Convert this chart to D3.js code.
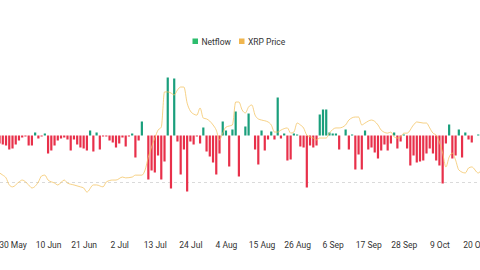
<!DOCTYPE html>
<html><head><meta charset="utf-8">
<script src="https://cdn.jsdelivr.net/npm/d3@7"></script>
<style>
html,body{margin:0;padding:0;background:#fff;}
svg{display:block;font-family:Roboto,"Noto Sans",sans-serif;}
</style></head><body>
<svg id="chart" width="480" height="270"></svg>
<script>
// ---- data ----
const startDate = "2023-05-26"; // first daily netflow bar
const netflow = [
 -8,-9,-10,-14,-13,-9,-5,-2,-1,-10,
 -10,3,-3,-1,2,-18,-15,-10,-5,-3,
 -2,-4,-15,-4,-9,-12,-13,-15,5,-16,
 3,-14,-1,-1,-5,-7,-12,-8,-2,-11,
 -1,2,-22,-5,14,0,-44,-35,-37,-20,
 -44,-26,58,-53,57,-6,-39,-14,-56,-6,
 -9,-1,-8,8,-16,-21,-27,-39,-18,14,
 5,-31,6,24,-41,0,9,22,0,-14,
 -29,5,-15,-4,4,-4,38,-3,2,-25,
 -24,2,1,-11,-12,-52,-10,-12,-10,21,
 26,26,3,2,2,-14,0,6,-14,1,
 -34,-19,-34,5,-14,-12,-17,-23,-15,-9,
 -15,-8,3,-13,-6,1,-13,-30,-20,-27,
 -26,-25,-18,-13,-18,-25,-30,-48,-8,11,
 -23,-20,6,-22,3,-4,-7,0,1,0
];
const priceDates = [
 "05-26","05-27","05-28","05-29","05-30","06-01","06-02","06-04","06-05","06-07",
 "06-08","06-09","06-10","06-12","06-13","06-15","06-16","06-18","06-20","06-21",
 "06-22","06-24","06-25","06-27","06-28","06-30","07-01","07-03","07-04","07-06",
 "07-07","07-09","07-10","07-11","07-12","07-13","07-14","07-15","07-16","07-17",
 "07-18","07-19","07-20","07-21","07-22","07-23","07-24","07-25","07-26","07-27",
 "07-28","07-29","07-30","07-31","08-01","08-02","08-03","08-04","08-05","08-06",
 "08-07","08-08","08-09","08-10","08-11","08-12","08-13","08-14","08-15","08-17",
 "08-18","08-19","08-20","08-21","08-23","08-24","08-25","08-26","08-27","08-28",
 "08-29","08-31","09-01","09-02","09-04","09-05","09-07","09-08","09-10","09-11",
 "09-13","09-14","09-15","09-16","09-18","09-20","09-21","09-23","09-24","09-25",
 "09-26","09-27","09-28","09-29","10-01","10-02","10-04","10-05","10-06","10-07",
 "10-08","10-09","10-10","10-11","10-12","10-13","10-14","10-15","10-17","10-18",
 "10-19","10-21","10-22"
];
const priceValues = [
 0.505,0.497,0.487,0.461,0.454,0.472,0.479,0.461,0.450,0.472,
 0.494,0.497,0.479,0.468,0.461,0.479,0.468,0.461,0.454,0.450,
 0.435,0.461,0.461,0.454,0.472,0.479,0.479,0.490,0.487,0.490,
 0.497,0.497,0.516,0.563,0.600,0.633,0.662,0.673,0.802,0.802,
 0.798,0.791,0.809,0.820,0.820,0.761,0.732,0.721,0.717,0.743,
 0.706,0.703,0.695,0.681,0.662,0.626,0.651,0.673,0.677,0.681,
 0.765,0.765,0.736,0.725,0.747,0.754,0.717,0.703,0.699,0.692,
 0.681,0.655,0.655,0.662,0.670,0.651,0.655,0.688,0.681,0.670,
 0.644,0.633,0.626,0.633,0.633,0.651,0.670,0.670,0.681,0.699,
 0.710,0.710,0.681,0.688,0.699,0.681,0.662,0.651,0.655,0.637,
 0.633,0.637,0.651,0.651,0.681,0.692,0.688,0.688,0.670,0.651,
 0.644,0.618,0.578,0.527,0.563,0.578,0.552,0.516,0.505,0.523,
 0.527,0.505,0.516
];
const tickDates = ["2023-05-30","2023-06-10","2023-06-21","2023-07-02","2023-07-13","2023-07-24",
 "2023-08-04","2023-08-15","2023-08-26","2023-09-06","2023-09-17","2023-09-28","2023-10-09","2023-10-20"];
const seriesNames = ["Netflow","XRP Price"];
const priceGrid = [0.47];

// ---- scales ----
const parse = d3.timeParse("%Y-%m-%d");
const svg = d3.select("#chart");
const x = d3.scaleTime().domain([parse("2023-05-30"), parse("2023-10-20")]).range([12.5, 475]);
const yNet = d3.scaleLinear().domain([-60, 60]).range([195.5, 75.5]);
const yPrice = d3.scaleLinear().domain([0.40, 0.90]).range([201.6, 65.2]);
const colUp = "#1a9f7c", colDown = "#e8304a", colPrice = "#f3c260";

svg.append("rect").attr("width",480).attr("height",270).attr("fill","#fff");

// dashed grid
svg.selectAll("line.grid").data(priceGrid).join("line")
  .attr("x1",0).attr("x2",480)
  .attr("y1",d=>yPrice(d)).attr("y2",d=>yPrice(d))
  .attr("stroke","#d0d0d0").attr("stroke-width",0.8).attr("stroke-dasharray","3,3");

// bars
const start = parse(startDate);
const bw = 2.2;
svg.append("g").selectAll("rect").data(netflow).join("rect")
  .attr("x",(d,i)=>x(d3.timeDay.offset(start,i)) - bw/2)
  .attr("width",bw)
  .attr("y",d=>d>=0 ? yNet(d) : yNet(0))
  .attr("height",d=>Math.abs(yNet(d)-yNet(0)))
  .attr("fill",d=>d>=0 ? colUp : colDown);

// price line
const pts = priceDates.map((d,i)=>({date:parse("2023-"+d), v:priceValues[i]}));
svg.append("path").datum(pts)
  .attr("fill","none").attr("stroke",colPrice).attr("stroke-width",0.9).attr("stroke-opacity",0.85)
  .attr("d", d3.line().x(d=>x(d.date)).y(d=>yPrice(d.v)).curve(d3.curveMonotoneX));

// x axis
const ax = svg.append("g").attr("transform","translate(0,238.5)")
  .call(d3.axisBottom(x).tickValues(tickDates.map(parse)).tickFormat(d3.timeFormat("%-d %b")).tickSize(0).tickPadding(3));
ax.select(".domain").remove();
ax.selectAll("text").attr("fill","#333").attr("font-size","8.5px").attr("font-family","Roboto, sans-serif");

// legend
const legend = [{name:seriesNames[0], c:"#2dbd6e", x:192.5, tx:201.5},{name:seriesNames[1], c:"#f0b64f", x:239, tx:248}];
const lg = svg.append("g");
lg.selectAll("rect").data(legend).join("rect")
  .attr("x",d=>d.x).attr("y",38.5).attr("width",5.5).attr("height",5.5).attr("fill",d=>d.c);
lg.selectAll("text").data(legend).join("text")
  .attr("x",d=>d.tx).attr("y",44.5).attr("font-size","8.5px").attr("fill","#333").text(d=>d.name);
</script>
</body></html>
